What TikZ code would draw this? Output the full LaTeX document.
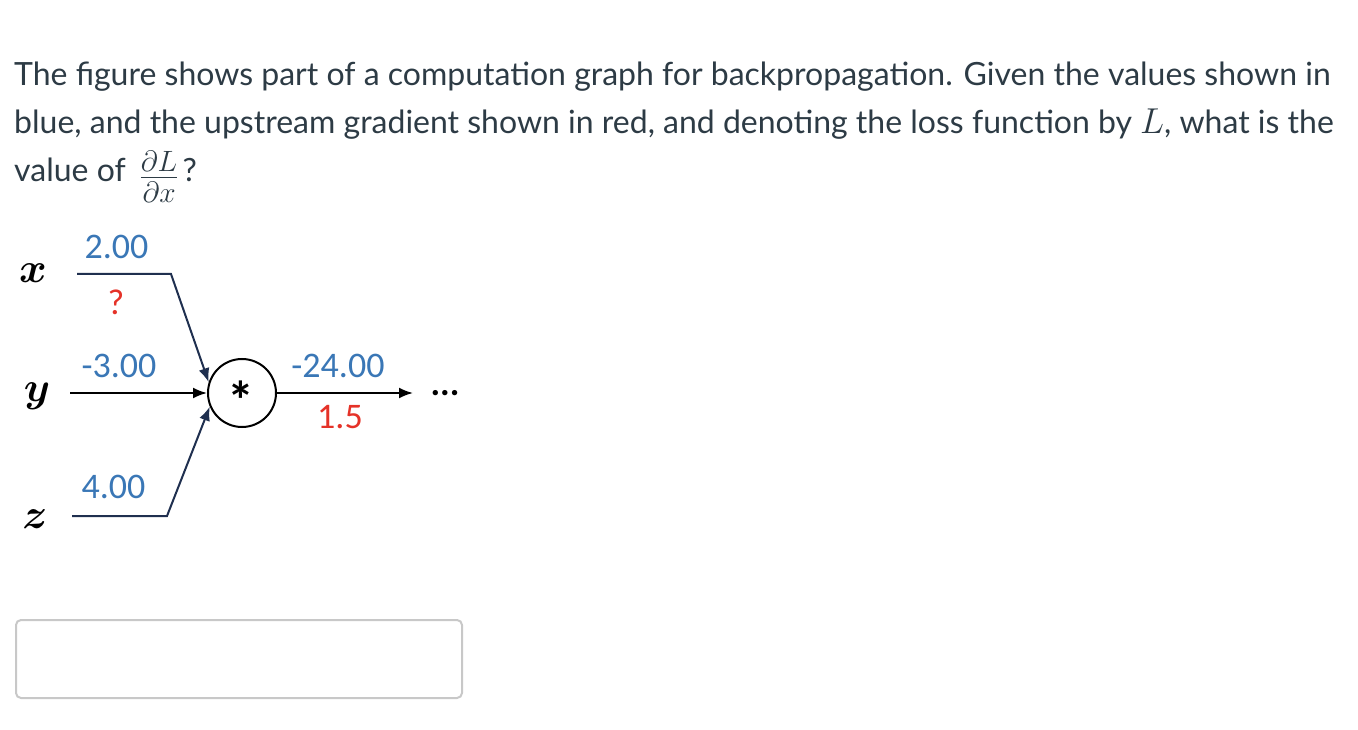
\RequirePackage{fix-cm}
\documentclass[tikz,border=0pt]{standalone}
\usepackage{fontspec}
\setmainfont{Lato}
\newfontfamily\numfont{Carlito}
\usetikzlibrary{arrows.meta}

\definecolor{qtext}{HTML}{2D3B45}
\definecolor{valblue}{HTML}{3A77B6}
\definecolor{gradred}{HTML}{E53228}
\definecolor{edgenavy}{HTML}{1F2F4F}
\definecolor{boxgray}{HTML}{C8C8C8}

\tikzset{
  qline/.style={anchor=base west, inner sep=0, text=qtext, font=\fontsize{32}{38}\selectfont},
  val/.style={anchor=base, inner sep=0, text=valblue, font=\numfont\fontsize{36}{40}\selectfont},
  grad/.style={val, text=gradred},
  var/.style={anchor=base, inner sep=0, font=\fontsize{42}{46}\selectfont\boldmath},
  wire/.style={line width=2pt},
  feed/.style={wire, -{Latex[length=14pt,width=11pt]}},
}

\begin{document}
\begin{tikzpicture}[x=1pt, y=1pt]
  \useasboundingbox (0,0) rectangle (1358,-730);

  % Question
  \draw (14,-86)    node(line1) [qline] {The figure shows part of a computation graph for backpropagation. Given the values shown in};
  \draw (14,-133.3) node(line2) [qline] {blue, and the upstream gradient shown in red, and denoting the loss function by {\fontsize{36}{38}\selectfont$L$}, what is the};
  \draw (14,-181.7) node(line3) [qline] {value of\hspace{14pt}\raisebox{-6.5pt}{\fontsize{42}{46}\selectfont$\frac{\partial L}{\partial x}$}\hspace{4pt}?};

  % Inputs
  \draw (33,-283)   node(x) [var] {$x$};
  \draw (37,-401.7) node(y) [var] {$y$};
  \draw (35,-528)   node(z) [var] {$z$};

  % Gate
  \draw (242,-393) node(mul) [circle, draw, wire, minimum size=68, inner sep=0] {};
  \draw (241,-419.5) node(op) [anchor=base, inner sep=0, font=\numfont\bfseries\fontsize{54}{58}\selectfont] {*};

  % Wires
  \coordinate (xs) at (77,-274);
  \coordinate (xk) at (171,-274);
  \coordinate (ys) at (70,-393);
  \coordinate (zs) at (72,-516);
  \coordinate (zk) at (167,-516);
  \coordinate (out) at (413,-393);
  \draw[feed, edgenavy] (xs) -- (xk) -- (mul.162);
  \draw[feed] (ys) -- (mul.west);
  \draw[feed, edgenavy] (zs) -- (zk) -- (mul.203);
  \draw[feed] (mul.east) -- (out);
  \draw (445,-395.5) node(more) [anchor=base, inner sep=0, font=\numfont\bfseries\fontsize{36}{40}\selectfont] {...};

  % Values and gradients
  \draw (116.5,-259) node(xval) [val] {2.00};
  \draw (116,-314)   node(xgrad) [grad] {?};
  \draw (119,-377)   node(yval) [val] {-3.00};
  \draw (113.5,-498) node(zval) [val] {4.00};
  \draw (338,-377)   node(outval) [val] {-24.00};
  \draw (340,-428)   node(outgrad) [grad] {1.5};

  % Answer field
  \draw (15,-619) node(answer) [anchor=north west, draw=boxgray, line width=2pt, rounded corners=5, minimum width=446, minimum height=78, inner sep=0] {};
\end{tikzpicture}
\end{document}
